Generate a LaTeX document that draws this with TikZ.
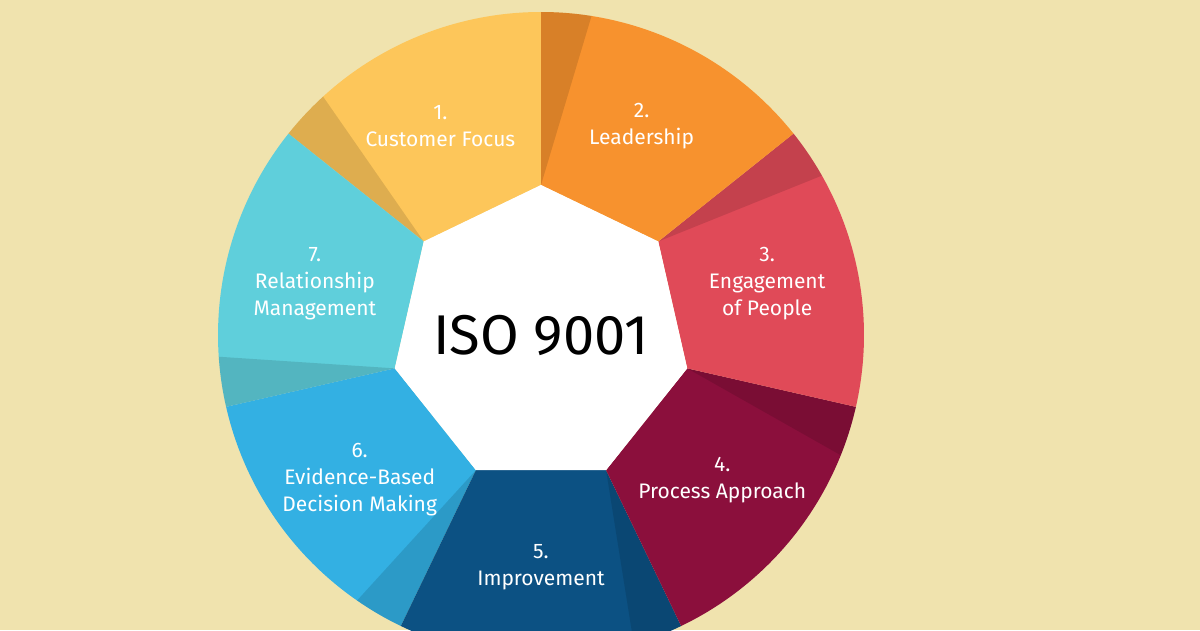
\documentclass[tikz,border=0pt]{standalone}
\usepackage{fontspec}
\setmainfont{Fira Sans}
\usetikzlibrary{calc}
\definecolor{bg}{HTML}{F0E3AE}
\definecolor{c1}{HTML}{FDC65A}
\definecolor{c2}{HTML}{F7922E}
\definecolor{c3}{HTML}{E04A58}
\definecolor{c4}{HTML}{8B0F3C}
\definecolor{c5}{HTML}{0C5183}
\definecolor{c6}{HTML}{33B0E3}
\definecolor{c7}{HTML}{5FCFDB}
\tikzset{lbl/.style={text=white,align=center,font=\fontsize{21}{27}\selectfont}}
\begin{document}
\begin{tikzpicture}[x=1pt,y=1pt]
\fill[bg] (0,0) rectangle (1200,630);
\useasboundingbox (0,0) rectangle (1200,630);
\clip (0,0) rectangle (1200,630);
\coordinate (c) at (541,295);
\foreach \i/\col in {0/c1,1/c7,2/c6,3/c5,4/c4,5/c3,6/c2}{
  \pgfmathsetmacro\a{90+\i*51.4286}
  \pgfmathsetmacro\b{\a+51.4286}
  \fill[\col] ($(c)+(\a:150)$) -- ($(c)+(\a:323)$) arc[start angle=\a,end angle=\b,radius=323] -- ($(c)+(\b:150)$) -- cycle;
  \fill[black,opacity=0.12] ($(c)+(\b:150)$) -- ($(c)+(\b:323)$) arc[start angle=\b,end angle=\b-9,radius=323] -- cycle;
}
\fill[white] ($(c)+(90:150)$) \foreach \k in {1,...,6}{ -- ($(c)+(90+\k*51.4286:150)$)} -- cycle;
\node[font=\fontsize{56}{60}\selectfont] (iso) at (c) {ISO 9001};
\node[lbl] (n1) at ($(c)+(115.7:232)$) {1.\\Customer Focus};
\node[lbl] (n2) at ($(c)+(64.3:232)$) {2.\\Leadership};
\node[lbl] (n3) at ($(c)+(12.9:232)$) {3.\\Engagement\\of People};
\node[lbl] (n4) at ($(c)+(-38.6:232)$) {4.\\Process Approach};
\node[lbl] (n5) at ($(c)+(-90:232)$) {5.\\Improvement};
\node[lbl] (n6) at ($(c)+(-141.4:232)$) {6.\\Evidence-Based\\Decision Making};
\node[lbl] (n7) at ($(c)+(167.1:232)$) {7.\\Relationship\\Management};
\end{tikzpicture}
\end{document}
